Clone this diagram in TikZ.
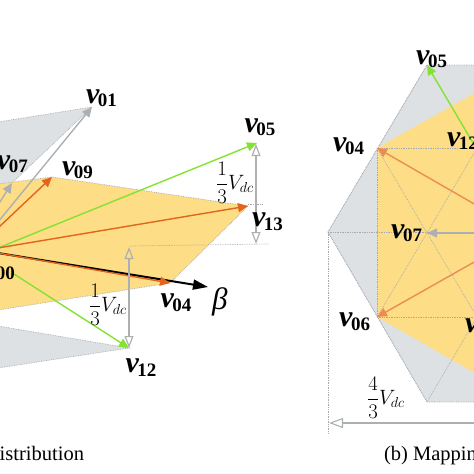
\documentclass[tikz,border=0pt]{standalone}
\usepackage{fontspec}
\setmainfont{Liberation Serif}
\usepackage{xcolor}
\usetikzlibrary{arrows.meta, positioning}
\definecolor{hexgray}{RGB}{222, 225, 227}
\definecolor{hexyellow}{RGB}{253, 222, 134}
\definecolor{edgegray}{RGB}{165, 170, 175}
\definecolor{vecgray}{RGB}{172, 176, 178}
\definecolor{vecgreen}{RGB}{132, 226, 50}
\definecolor{vecorange}{RGB}{226, 100, 30}
\definecolor{veclight}{RGB}{236, 140, 84}
\newcommand{\vlab}[1]{{\fontsize{30}{30}\selectfont\bfseries\itshape v}\kern-1.5pt\raisebox{-3.5pt}{\fontsize{19}{19}\selectfont\bfseries #1}}
\newcommand{\dcfrac}[1]{$\displaystyle\frac{#1}{3}V_{dc}$}

\begin{document}
\begin{tikzpicture}[
    x=1pt, y=-1pt,
    node distance=2pt,
    every node/.style={inner sep=0pt, outer sep=0pt},
    vlabel/.style={align=center},
    dimlabel/.style={font=\fontsize{20}{20}\selectfont},
    caption/.style={font=\fontsize{20.5}{21}\selectfont},
    zone/.style={draw=edgegray, densely dotted, line width=0.7pt},
    guide/.style={draw=edgegray, densely dotted, line width=0.7pt},
    vec/.style={-{Triangle[length=10pt, width=9pt]}, line width=1.4pt},
    dimarrow/.style={{Triangle[open, length=12pt, width=9pt]}-{Triangle[open, length=12pt, width=9pt]}, draw=vecgray, line width=1.2pt}
]
\clip (0,0) rectangle (474,474);

% Vector tips, left panel
\coordinate (t01) at (92,107);
\coordinate (t05) at (257,143);
\coordinate (t07) at (12,183);
\coordinate (t09) at (52,177);
\coordinate (t13) at (248,206);
\coordinate (t04) at (170,283);
\coordinate (t12) at (129,348);
\coordinate (beta) at (208,287);

% Sectors, left panel
\filldraw[zone, fill=hexgray] (-2,122) -- (t01) -- (t07) -- (-2,190) -- cycle;
\filldraw[zone, fill=hexgray] (-2,326) -- (t12) -- (-2,368) -- cycle;
\filldraw[zone, fill=hexyellow] (-2,184) -- (t09) -- (t13) -- (t04) -- (-2,310) -- cycle;

% Guides, left panel
\coordinate (g1) at (130,246);
\coordinate (g2) at (269,244);
\coordinate (g3) at (248,204);
\coordinate (g4) at (262,204);
\draw[guide] (g1) -- (g2);
\draw[guide] (g3) -- (g4);

% Vectors, left panel
\coordinate (s01) at (-2,222);
\coordinate (s07) at (-2,205);
\coordinate (s09) at (-2,228);
\coordinate (s05) at (-2,248);
\coordinate (s13) at (-2,248);
\coordinate (s04) at (-2,253);
\coordinate (s12) at (14,274);
\draw[vec, vecgray] (s01) -- (t01);
\draw[vec, vecgray] (s07) -- (t07);
\draw[vec, vecorange] (s09) -- (t09);
\draw[vec, vecgreen] (s05) -- (t05);
\draw[vec, vecorange] (s13) -- (t13);
\draw[-{Triangle[length=15pt, width=10pt]}, line width=2pt] (s04) -- (beta);
\draw[vec, vecorange] (s04) -- (t04);
\draw[vec, vecgreen] (s12) -- (t12);

% Dimensions, left panel
\coordinate (d1) at (129,247);
\coordinate (d2) at (256,144);
\coordinate (d3) at (256,244);
\draw[dimarrow] (d1) -- (t12);
\draw[dimarrow] (d2) -- (d3);

% Labels, left panel
\node[vlabel, above right=0pt and -6pt of t01] (l01) {\vlab{01}};
\node[vlabel, above=7pt of t05, xshift=3pt] (l05) {\vlab{05}};
\node[vlabel, above right=10pt and -15pt of t07] (l07) {\vlab{07}};
\node[vlabel, above right=-2pt and 10pt of t09] (l09) {\vlab{09}};
\node[vlabel, below right=7pt and 4pt of t13] (l13) {\vlab{13}};
\node[vlabel, below=11pt of t04, xshift=6pt] (l04) {\vlab{04}};
\node[vlabel, below=11pt of t12, xshift=12pt] (l12) {\vlab{12}};
\node[vlabel, below left=-12pt and -1pt of s12] (l00) {\vlab{00}};
\node[right=4pt of beta, yshift=-15pt, font=\fontsize{31}{31}\selectfont\itshape] (lbeta) {β};
\node[dimlabel] (f1) at (235,183) {\dcfrac{1}};
\node[dimlabel] (f2) at (108,305) {\dcfrac{1}};

% Vertices, right panel
\coordinate (a05) at (427,65);
\coordinate (a05r) at (480,65);
\coordinate (a04) at (377,148);
\coordinate (a07) at (427,233);
\coordinate (aleft) at (328,232);
\coordinate (a06) at (377,317);
\coordinate (abot) at (427,402);
\coordinate (abotr) at (480,402);
\coordinate (atr) at (480,90);
\coordinate (abr) at (480,376);
\coordinate (ir) at (477,148);
\coordinate (irr) at (477,317);

% Sectors, right panel
\filldraw[zone, fill=hexgray] (a05) -- (a05r) -- (abotr) -- (abot) -- (aleft) -- cycle;
\filldraw[zone, fill=hexyellow, draw=none] (atr) -- (a04) -- (a06) -- (abr) -- cycle;

% Inner mesh
\draw[guide] (a05) -- (aleft) -- (abot);
\draw[guide] (a04) -- (a06);
\draw[guide] (aleft) -- (480,232);
\draw[guide] (a04) -- (ir);
\draw[guide] (a06) -- (irr);
\draw[guide] (a04) -- (a07) -- (a06);
\draw[guide] (ir) -- (a07) -- (irr);
\draw[guide] (abot) -- (irr);

% Vectors, right panel
\coordinate (p05) at (476,148);
\coordinate (p04) at (476,205);
\coordinate (p07) at (476,233);
\coordinate (p06) at (476,261);
\draw[vec, vecgreen] (p05) -- (a05);
\draw[vec, veclight] (p04) -- (a04);
\draw[vec, vecgray] (p07) -- (a07);
\draw[vec, veclight] (p06) -- (a06);

% Dimension, right panel
\coordinate (w1) at (480,423);
\coordinate (w2) at (329,423);
\coordinate (w3) at (328,434);
\draw[-{Triangle[open, length=14pt, width=10pt]}, draw=vecgray, line width=1.1pt] (w1) -- (w2);
\draw[guide] (aleft) -- (w3);

% Labels, right panel
\node[vlabel, above left=-3pt and -20pt of a05] (r05) {\vlab{05}};
\node[vlabel, above left=-7pt and 13pt of a04] (r04) {\vlab{04}};
\node[vlabel, below left=-4pt and 7pt of a06] (r06) {\vlab{06}};
\node[vlabel, left=5pt of a07] (r07) {\vlab{07}};
\node[vlabel, anchor=west] (r12) at (447,141) {\vlab{12}};
\node[vlabel, anchor=west] (r13) at (465,327) {\vlab{13}};
\node[dimlabel] (f3) at (386,398) {\dcfrac{4}};

% Captions
\node[caption, anchor=base east] (cap1) at (84,460) {istribution};
\node[caption, anchor=base west] (cap2) at (384,460) {(b) Mappin};
\end{tikzpicture}
\end{document}
